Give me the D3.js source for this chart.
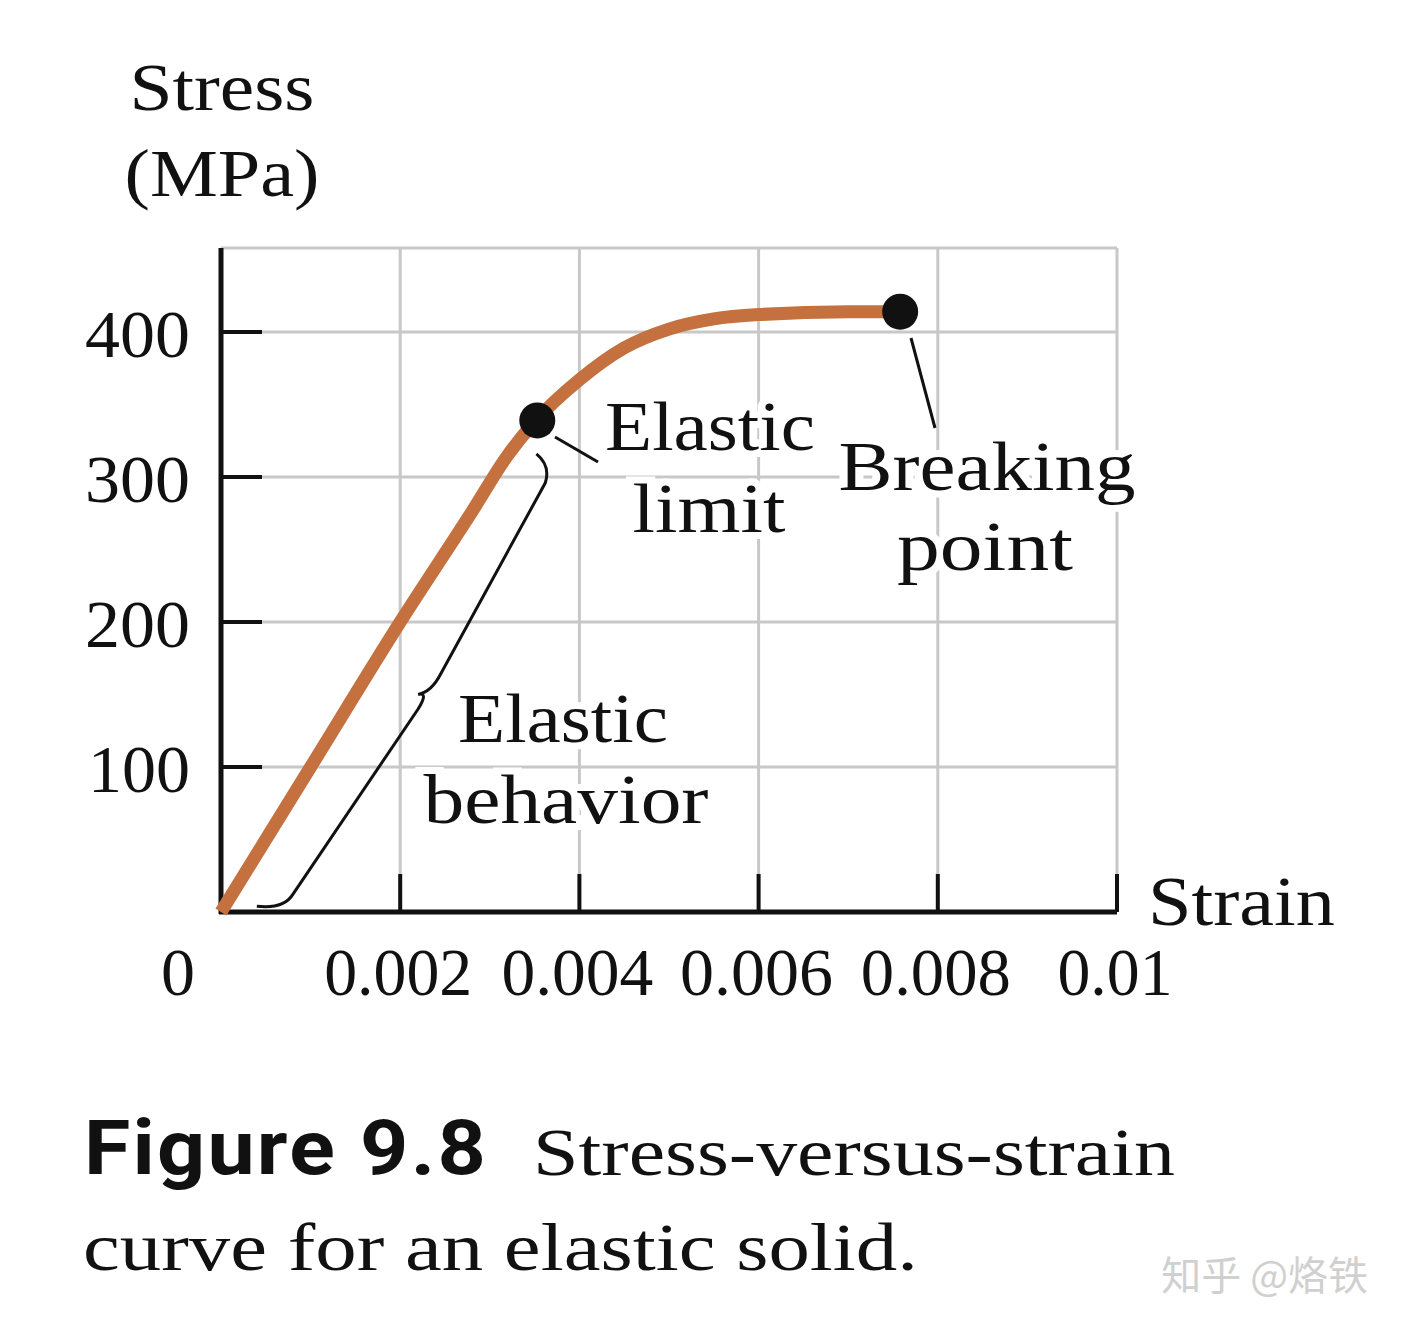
<!DOCTYPE html>
<html><head><meta charset="utf-8">
<script src="https://cdn.jsdelivr.net/npm/d3@7"></script>
<style>body{margin:0;background:#fff}</style>
</head><body>
<script>
// stress-strain curve
var strain = [0, 0.001, 0.002, 0.0028, 0.0032, 0.0035, 0.004, 0.0045, 0.005, 0.0055, 0.006, 0.007, 0.0076];
var stress = [0, 100, 200, 276, 315, 338, 367, 389, 402, 409, 412, 414, 414];
var xTicks = [0.002, 0.004, 0.006, 0.008, 0.01];
var xTickLabels = ["0.002", "0.004", "0.006", "0.008", "0.01"];
var yTicks = [100, 200, 300, 400];
var points = [[0.00353, 339, "elastic"], [0.00758, 414, "break"]];

var W = 1404, H = 1334;
var x = d3.scaleLinear().domain([0, 0.01]).range([221, 1117]);
var y = d3.scaleLinear().domain([0, 400]).range([912, 332]);
var serif = "'Liberation Serif', 'DejaVu Serif', serif";

var svg = d3.select("body").append("svg").attr("width", W).attr("height", H);

// grid
var grid = svg.append("g").attr("stroke", "#c8c8c8").attr("stroke-width", 3);
xTicks.forEach(function(t) {
  grid.append("line").attr("x1", x(t)).attr("x2", x(t)).attr("y1", y(458)).attr("y2", y(0));
});
yTicks.concat([458]).forEach(function(t) {
  grid.append("line").attr("x1", x(0)).attr("x2", x(0.01)).attr("y1", y(t)).attr("y2", y(t));
});

// axes
svg.append("line").attr("x1", x(0)).attr("x2", x(0)).attr("y1", y(458)).attr("y2", y(0) + 2)
  .attr("stroke", "#111").attr("stroke-width", 5);
svg.append("line").attr("x1", x(0) - 2).attr("x2", x(0.01)).attr("y1", y(0)).attr("y2", y(0))
  .attr("stroke", "#111").attr("stroke-width", 5);
yTicks.forEach(function(t) {
  svg.append("line").attr("x1", x(0)).attr("x2", x(0) + 41).attr("y1", y(t)).attr("y2", y(t))
    .attr("stroke", "#111").attr("stroke-width", 4);
});
xTicks.forEach(function(t) {
  svg.append("line").attr("x1", x(t)).attr("x2", x(t)).attr("y1", y(0)).attr("y2", y(0) - 38)
    .attr("stroke", "#111").attr("stroke-width", 4);
});

// text helper; width stretches the serif to the wider book face, halo breaks the grid
function txt(s, px, py, size, anchor, width, halo) {
  var t = svg.append("text").attr("x", px).attr("y", py).text(s)
    .attr("font-family", serif).attr("font-size", size).attr("fill", "#111")
    .attr("text-anchor", anchor || "start");
  if (width) t.attr("textLength", width).attr("lengthAdjust", "spacingAndGlyphs");
  if (halo) t.attr("stroke", "#fff").attr("stroke-width", 14).attr("paint-order", "stroke");
  return t;
}

yTicks.forEach(function(t) { txt(t, 190, y(t) + 25, 68, "end", t == 100 ? 102 : 105); });
txt("0", 178, 995, 68, "middle");
var xw = [148, 152, 153, 150, 115];
xTicks.forEach(function(t, i) { txt(xTickLabels[i], x(t) - 2, 995, 68, "middle", xw[i]); });

txt("Stress", 222, 110, 68, "middle", 185);
txt("(MPa)", 222, 196, 68, "middle", 195);
txt("Strain", 1148, 925, 70, "start", 187, true);

// curve
var line = d3.line().x(function(d, i) { return x(strain[i]); }).y(function(d) { return y(d); })
  .curve(d3.curveMonotoneX);
svg.append("path").attr("d", line(stress)).attr("fill", "none")
  .attr("stroke", "#c4713f").attr("stroke-width", 13).attr("stroke-linecap", "butt");

// annotations: brace and leader lines
var ann = svg.append("g").attr("fill", "none").attr("stroke", "#111").attr("stroke-width", 3);
ann.append("path")
  .attr("d", "M" + x(0.0004) + "," + y(4)
    + " Q" + x(0.0007) + "," + y(2) + " " + x(0.0008) + "," + y(12)
    + " L" + x(0.0022) + "," + y(140)
    + " Q" + x(0.00232) + "," + y(152) + " " + x(0.0022) + "," + y(150)
    + " Q" + x(0.00235) + "," + y(152) + " " + x(0.00245) + "," + y(164)
    + " L" + x(0.00362) + "," + y(296)
    + " Q" + x(0.00368) + "," + y(308) + " " + x(0.00352) + "," + y(316));
ann.append("line").attr("x1", 555).attr("y1", 437).attr("x2", 598).attr("y2", 462);
ann.append("line").attr("x1", 911).attr("y1", 338).attr("x2", 935).attr("y2", 428);

// dots
svg.selectAll("circle.pt").data(points).enter().append("circle")
  .attr("class", "pt").attr("cx", function(d) { return x(d[0]); }).attr("cy", function(d) { return y(d[1]); })
  .attr("r", 18).attr("fill", "#111");

txt("Elastic", 710, 450, 70, "middle", 210, true);
txt("limit", 709, 532, 70, "middle", 153, true);
txt("Breaking", 987, 490, 70, "middle", 297, true);
txt("point", 985, 570, 70, "middle", 176, true);
txt("Elastic", 563, 742, 70, "middle", 210, true);
txt("behavior", 566, 823, 70, "middle", 285, true);

// caption
svg.append("text").attr("x", 84).attr("y", 1174).text("Figure 9.8")
  .attr("font-family", "Roboto, 'DejaVu Sans', sans-serif").attr("font-weight", "bold")
  .attr("font-size", 76).attr("fill", "#111").attr("letter-spacing", 2)
  .attr("textLength", 404).attr("lengthAdjust", "spacingAndGlyphs");
txt("Stress-versus-strain", 533, 1175, 68, "start", 642);
txt("curve for an elastic solid.", 83, 1270, 68, "start", 835);

svg.append("text").attr("x", 1368).attr("y", 1290).attr("text-anchor", "end").text("知乎 @烙铁")
  .attr("font-family", "'Noto Sans CJK SC', sans-serif").attr("font-size", 40).attr("fill", "#d0d0d0");
</script>
</body></html>
